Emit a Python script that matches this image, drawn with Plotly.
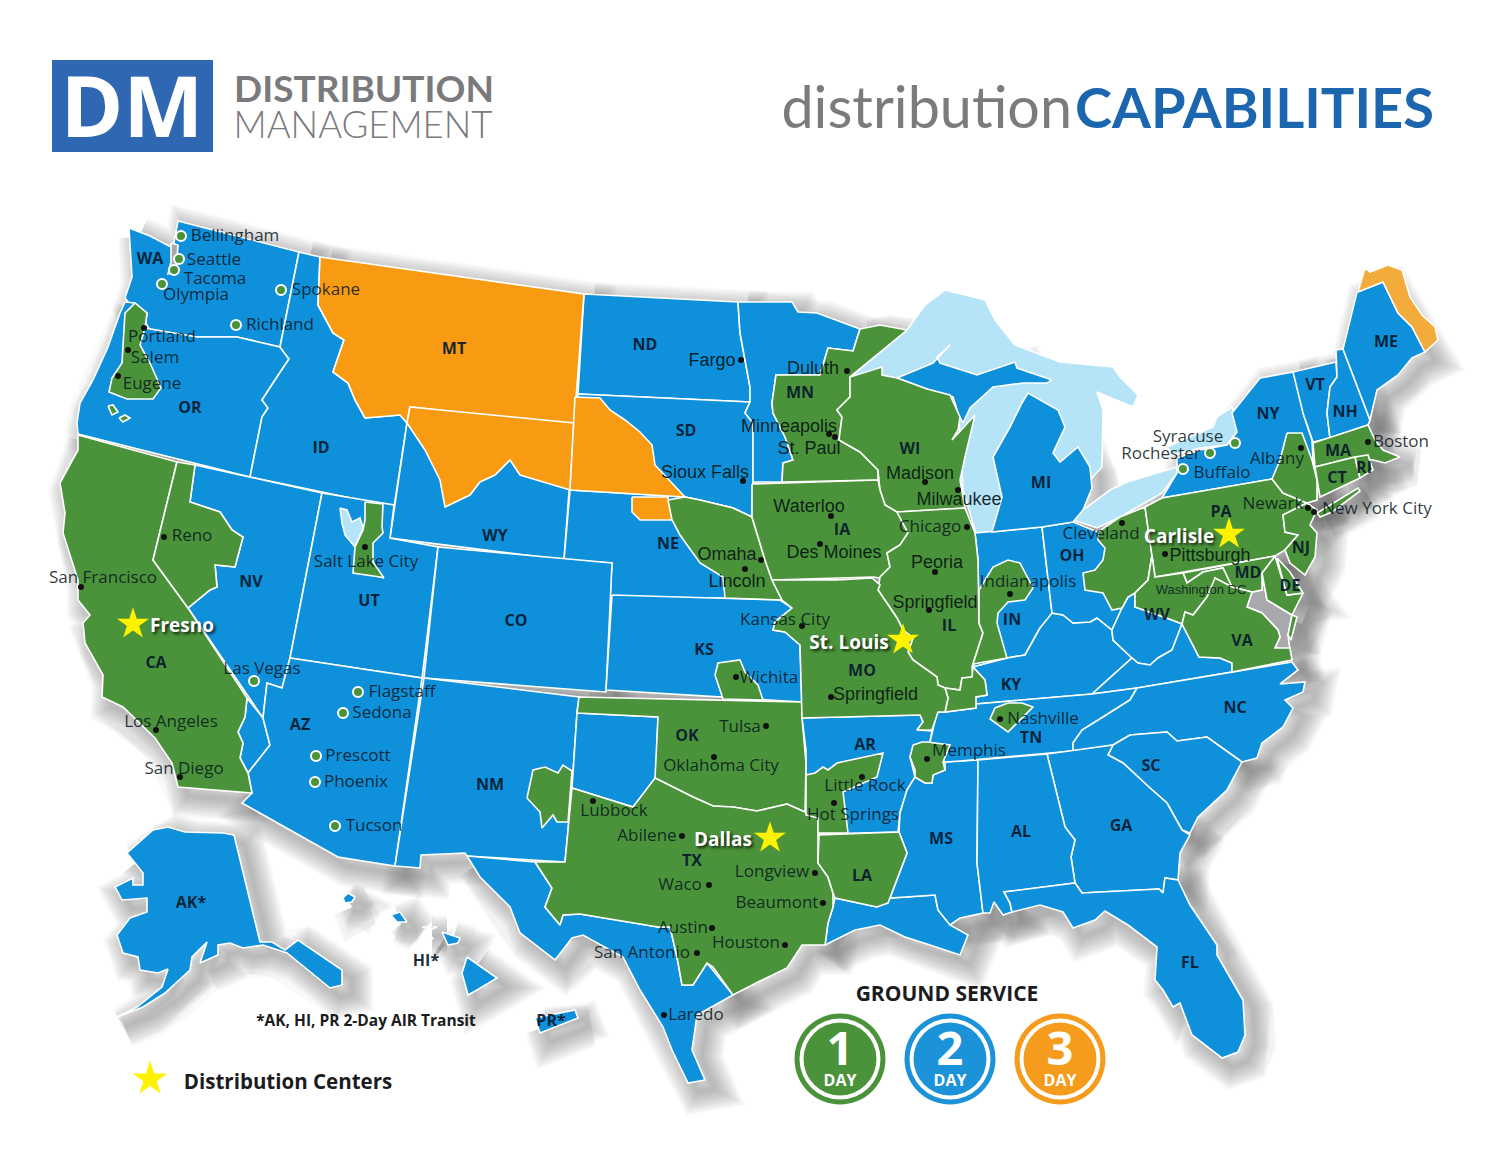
import plotly.graph_objects as go

# colours
BLUE = "#0E90DB"
GREEN = "#4A933A"
ORANGE = "#F89B12"
ORANGE_ME = "#F3AC3B"
LAKE = "#B5E3F7"
BAY = "#A9A8AD"
YELLOW = "#FFF200"
INK = "rgba(8,22,32,0.86)"

# outlines, in picture pixels
WA = [(129,228),(150,236),(173,248),(178,221),(299,252),(280,347),(237,337),(197,337),(150,330),(145,322),(125,298),(132,277)]
PUGET = [(171,243),(178,245),(176,272),(168,274),(171,262)]
OREGON = [(125,302),(135,303),(147,313),(145,328),(197,337),(237,337),(280,347),(289,359),(273,383),(262,400),(268,408),(262,417),(250,477),(78,434),(77,423),(80,403),(93,380),(108,347),(120,313)]
WILLAMETTE = [(135,303),(147,313),(145,328),(140,345),(150,363),(161,388),(153,399),(127,399),(109,392),(112,378),(122,363),(123,347),(125,313)]
OR_ISLE_A = [(108,406),(113,405),(118,412),(112,415)]
OR_ISLE_B = [(119,418),(125,415),(130,418),(123,422)]
ID = [(299,252),(320,257),(318,305),(333,333),(344,340),(333,372),(348,383),(355,400),(365,418),(400,415),(407,423),(394,507),(250,477),(262,417),(268,408),(262,400),(273,383),(289,359),(280,347)]
MT = [(320,257),(584,294),(574,425),(410,407),(407,423),(400,415),(365,418),(355,400),(348,383),(333,372),(344,340),(333,333),(318,305)]
WY = [(407,423),(410,407),(574,423),(564,560),(390,538)]
WY_EAST = [(410,407),(574,423),(570,490),(520,475),(510,460),(495,475),(480,482),(470,495),(445,507),(440,480),(425,450),(407,423)]
ND = [(584,294),(738,302),(740,333),(750,387),(750,402),(578,394)]
SD = [(578,394),(750,402),(745,413),(753,423),(753,482),(752,517),(733,508),(700,500),(685,497),(570,490)]
SD_WEST = [(575,397),(600,398),(610,410),(625,420),(640,432),(652,445),(655,465),(685,497),(570,490)]
NE = [(570,490),(685,497),(700,500),(733,508),(752,517),(765,560),(772,580),(782,600),(723,598),(610,597),(612,563),(564,560)]
NE_EAST = [(668,500),(685,497),(700,500),(733,508),(752,517),(765,560),(772,580),(782,600),(725,598),(723,577),(700,563),(680,535),(672,520)]
NE_NOTCH = [(632,497),(668,497),(672,520),(640,520),(632,512)]
MN = [(738,302),(792,302),(798,312),(817,313),(860,329),(853,351),(828,348),(820,375),(776,375),(772,403),(773,413),(785,437),(793,460),(783,463),(782,482),(753,482),(753,423),(745,413),(750,402),(750,387),(740,333)]
MN_EAST = [(860,329),(880,325),(907,330),(853,375),(850,377),(850,397),(837,410),(842,417),(839,440),(860,452),(878,470),(878,480),(782,482),(783,463),(793,460),(785,437),(773,413),(772,403),(776,375),(820,375),(828,348),(853,351)]
WI = [(850,377),(882,367),(882,375),(897,378),(927,389),(950,395),(960,417),(958,430),(952,440),(975,415),(965,457),(960,480),(965,508),(897,512),(885,505),(880,490),(878,470),(860,452),(839,440),(842,417),(837,410),(850,397)]
IA = [(752,484),(878,480),(880,490),(885,505),(897,512),(908,533),(900,545),(887,553),(890,567),(880,578),(873,577),(772,580),(765,560),(752,517)]
IL = [(897,512),(965,508),(975,533),(978,560),(979,623),(983,633),(972,667),(973,677),(962,678),(960,690),(945,688),(938,685),(937,677),(913,660),(908,652),(913,638),(903,630),(897,618),(878,590),(880,577),(890,567),(887,553),(900,545),(908,533)]
KY_WEST = [(973,667),(985,680),(987,695),(976,697),(976,708),(945,712),(948,698),(945,688),(960,690),(962,678),(972,677)]
IN = [(975,533),(1042,527),(1052,613),(1050,625),(1040,628),(1033,640),(1025,655),(1007,658),(973,667),(983,633),(979,623),(978,560)]
IN_WEST = [(979,590),(993,567),(1008,560),(1020,563),(1033,588),(1025,600),(1008,602),(998,613),(997,623),(1007,658),(973,664),(983,633),(979,623)]
KY = [(973,667),(1007,658),(1025,655),(1033,640),(1040,628),(1052,613),(1063,615),(1073,623),(1090,622),(1097,618),(1112,630),(1113,640),(1132,658),(1115,673),(1092,694),(976,704),(976,697),(987,695),(985,680)]
OH = [(1042,527),(1073,522),(1098,532),(1145,507),(1152,555),(1148,580),(1135,593),(1128,597),(1122,608),(1112,630),(1097,618),(1090,622),(1073,623),(1063,615),(1052,613)]
OH_EAST = [(1145,507),(1152,555),(1148,580),(1135,593),(1128,597),(1122,608),(1112,610),(1103,593),(1085,590),(1083,573),(1095,570),(1103,560),(1105,548),(1098,540),(1098,532),(1120,517)]
MI_LOWER = [(1042,527),(992,532),(1002,497),(993,457),(1010,427),(1022,403),(1028,393),(1058,410),(1065,427),(1053,453),(1060,462),(1078,447),(1090,467),(1092,488),(1083,510),(1073,522)]
MI_UPPER = [(897,378),(933,363),(950,345),(937,357),(940,363),(977,375),(1015,362),(1017,368),(1052,380),(1047,383),(1023,383),(993,387),(970,408),(963,423),(958,413),(953,397),(927,389)]
GREAT_LAKES = [(853,375),(907,330),(925,305),(945,290),(985,300),(995,320),(1015,345),(1060,362),(1113,367),(1120,377),(1138,395),(1133,407),(1097,392),(1103,410),(1102,467),(1090,480),(1060,470),(1002,497),(993,532),(977,537),(963,490),(960,430),(958,400),(897,378)]
LAKE_ERIE = [(1073,520),(1083,510),(1110,490),(1127,482),(1177,467),(1177,473),(1162,493),(1120,517),(1097,528)]
LAKE_ONTARIO = [(1167,447),(1213,427),(1217,417),(1232,407),(1237,420),(1237,432),(1227,445),(1200,448),(1173,455)]
SALT_LAKE = [(340,508),(347,510),(352,522),(360,518),(363,528),(355,547),(345,535),(342,523)]
PA = [(1145,507),(1162,498),(1272,479),(1283,493),(1307,503),(1283,515),(1285,532),(1298,535),(1285,550),(1275,556),(1155,577)]
NY = [(1162,498),(1177,473),(1177,458),(1200,450),(1227,445),(1237,432),(1232,413),(1260,378),(1293,372),(1300,393),(1303,413),(1312,440),(1313,460),(1317,480),(1317,500),(1307,503),(1283,493),(1272,479)]
NY_HUDSON = [(1287,433),(1302,433),(1312,460),(1317,480),(1317,500),(1307,503),(1283,493),(1272,479),(1280,460)]
LONG_ISLAND = [(1317,513),(1358,488),(1360,491),(1332,512),(1320,517)]
NJ = [(1307,503),(1317,510),(1310,525),(1317,533),(1315,557),(1305,575),(1290,563),(1285,550),(1298,535),(1285,532),(1283,515)]
EAST_SHORE = [(1275,556),(1287,595),(1303,593),(1292,615),(1267,600),(1262,573)]
DE = [(1277,558),(1290,572),(1303,593),(1287,595)]
VA_SHORE = [(1292,615),(1297,617),(1291,640),(1288,635)]
MD = [(1183,573),(1275,556),(1262,573),(1262,590),(1252,592),(1232,587),(1223,568),(1203,572),(1187,583)]
WV_NORTH = [(1135,593),(1148,580),(1152,555),(1155,577),(1183,573),(1187,583),(1203,572),(1223,568),(1232,587),(1215,578),(1213,587),(1207,597),(1193,615),(1185,612),(1182,624),(1172,620),(1135,607)]
WV = [(1135,593),(1135,607),(1172,620),(1182,624),(1172,650),(1158,658),(1150,665),(1138,663),(1132,658),(1113,640),(1112,630),(1122,608),(1128,597)]
VA_NORTH = [(1182,624),(1199,657),(1220,658),(1232,663),(1232,672),(1292,660),(1290,648),(1275,648),(1280,637),(1278,630),(1262,613),(1247,607),(1252,592),(1232,587),(1215,578),(1207,597),(1193,615),(1185,612)]
VA_SOUTH = [(1182,624),(1199,657),(1220,658),(1232,663),(1232,672),(1137,688),(1092,694),(1115,673),(1132,658),(1138,663),(1150,665),(1158,658),(1172,650)]
CHESAPEAKE = [(1262,573),(1267,600),(1292,615),(1288,635),(1290,650),(1275,648),(1280,637),(1278,630),(1262,613),(1247,607),(1252,592),(1262,590)]
VT = [(1293,372),(1336,362),(1337,377),(1330,387),(1327,413),(1330,438),(1313,442),(1303,413)]
NH = [(1336,350),(1343,349),(1370,420),(1368,425),(1330,438),(1327,413),(1330,387),(1337,377)]
ME = [(1343,349),(1357,292),(1383,282),(1398,313),(1412,327),(1425,352),(1412,358),(1398,375),(1377,390),(1370,420)]
ME_NORTH = [(1358,292),(1365,268),(1370,272),(1388,265),(1402,270),(1410,297),(1422,315),(1435,327),(1438,340),(1425,352),(1412,327),(1398,313),(1383,282)]
MA = [(1313,443),(1368,425),(1375,440),(1383,450),(1400,457),(1385,463),(1373,460),(1355,457),(1315,467)]
CT = [(1315,467),(1355,457),(1360,478),(1320,497)]
RI = [(1355,457),(1368,455),(1373,470),(1360,478)]
CA = [(78,435),(177,462),(153,560),(188,608),(247,698),(245,717),(238,732),(243,743),(240,758),(248,773),(252,793),(178,787),(172,763),(155,738),(123,707),(102,697),(103,675),(85,643),(83,623),(90,615),(78,600),(78,580),(63,533),(65,513),(60,483),(78,450)]
NV = [(195,465),(322,493),(290,658),(282,688),(267,683),(263,718),(188,608),(210,590),(217,587),(215,565),(235,567),(243,537),(232,530),(220,512),(190,502)]
NV_WEST = [(177,462),(195,465),(190,502),(220,512),(232,530),(243,537),(235,567),(215,565),(217,587),(210,590),(188,608),(153,560)]
CA_STRIP = [(247,698),(263,718),(270,745),(248,773),(240,758),(243,743),(238,732),(245,717)]
UT = [(322,493),(394,505),(390,538),(438,547),(422,678),(290,658)]
UT_VALLEY = [(365,502),(383,504),(382,527),(383,533),(373,543),(373,562),(384,578),(380,577),(353,573),(355,547),(363,530),(365,520)]
AZ = [(290,658),(422,678),(395,866),(338,857),(242,803),(252,793),(248,773),(270,745),(263,718),(267,683),(282,688)]
CO = [(438,547),(612,563),(606,692),(424,678)]
NM = [(424,678),(579,697),(577,713),(572,788),(565,862),(467,856),(465,853),(421,855),(420,868),(395,866)]
NM_PATCH = [(527,798),(533,770),(545,767),(558,773),(563,765),(572,771),(568,822),(557,822),(553,815),(542,828),(540,812)]
KS = [(612,595),(780,600),(792,608),(775,622),(773,630),(785,632),(800,645),(802,702),(606,690)]
KS_PATCH = [(715,675),(718,663),(740,660),(745,672),(758,685),(763,700),(723,699)]
OK = [(579,697),(802,702),(802,718),(806,763),(805,812),(787,804),(757,811),(733,807),(713,806),(693,797),(673,787),(655,778),(658,717),(577,713)]
TX_PANHANDLE = [(577,713),(658,717),(656,778),(633,807),(572,788)]
TX_CENTRAL = [(572,788),(633,807),(655,778),(673,787),(693,797),(713,806),(733,807),(757,811),(787,804),(805,812),(818,818),(818,863),(828,877),(833,893),(833,907),(828,923),(825,945),(802,945),(797,953),(787,968),(758,982),(733,995),(713,967),(707,963),(693,985),(682,985),(677,957),(670,927),(658,927),(580,914),(563,915),(560,925),(545,907),(552,888),(535,862),(565,862)]
TX_SOUTH = [(467,856),(480,877),(510,907),(520,933),(555,960),(572,938),(583,935),(623,957),(640,990),(663,1027),(672,1050),(688,1083),(705,1080),(692,1050),(697,1015),(733,995),(707,963),(693,985),(682,985),(677,957),(670,927),(658,927),(580,914),(563,915),(560,925),(545,907),(552,888),(535,862)]
MO = [(772,580),(837,580),(872,578),(880,585),(878,590),(897,618),(903,630),(913,638),(908,652),(913,660),(937,677),(938,685),(945,688),(948,698),(945,712),(938,712),(932,730),(917,730),(923,722),(920,715),(802,718),(800,645),(785,632),(773,630),(775,622),(792,608),(782,600)]
MO_NORTH = [(772,580),(837,580),(847,598),(843,610),(792,608),(782,600)]
AR = [(802,718),(920,715),(923,722),(917,730),(932,731),(930,742),(910,757),(915,777),(907,790),(900,813),(898,832),(818,834),(818,818),(806,810),(806,750)]
AR_PATCH = [(806,775),(815,773),(823,767),(828,770),(837,763),(883,753),(877,777),(843,792),(848,833),(818,833),(818,818),(806,815)]
LA = [(819,835),(899,832),(907,853),(890,898),(888,903),(877,907),(835,898),(833,893),(828,877),(818,863)]
LA_SOUTH = [(835,898),(877,907),(890,898),(935,895),(938,910),(950,925),(968,935),(960,955),(930,945),(905,937),(880,925),(855,930),(825,945),(828,923),(833,907)]
MS = [(945,762),(978,760),(977,863),(983,913),(960,918),(950,925),(938,910),(935,895),(890,898),(907,853),(899,832),(900,813),(907,790),(915,777),(925,783),(932,783),(933,775),(945,770)]
MEMPHIS = [(913,745),(922,742),(927,742),(950,745),(943,762),(945,770),(933,775),(932,783),(925,783),(915,777),(915,770),(910,757)]
TN = [(945,712),(976,708),(976,704),(1092,694),(1137,688),(1130,700),(1103,717),(1082,730),(1073,743),(1073,751),(960,761),(945,762),(930,742),(932,733),(937,712)]
NASHVILLE = [(1008,703),(1022,703),(1033,707),(1008,732),(990,719),(995,708)]
NC = [(1137,688),(1292,662),(1298,670),(1280,684),(1305,682),(1303,692),(1285,700),(1293,708),(1283,727),(1262,743),(1257,758),(1242,762),(1207,737),(1177,741),(1167,732),(1130,735),(1113,745),(1073,751),(1073,743),(1082,730),(1103,717),(1130,700)]
SC = [(1113,745),(1130,735),(1167,732),(1177,741),(1207,737),(1242,762),(1227,790),(1198,817),(1190,833),(1182,830),(1167,803),(1150,788),(1123,763),(1108,755)]
GA = [(1047,754),(1113,745),(1108,755),(1123,763),(1150,788),(1167,803),(1182,830),(1190,835),(1180,853),(1178,880),(1165,878),(1163,893),(1159,889),(1082,893),(1075,883),(1071,857),(1075,840),(1065,827)]
AL = [(978,760),(1047,754),(1065,827),(1075,840),(1071,857),(1075,883),(1004,892),(1010,903),(1012,912),(1003,915),(994,902),(990,913),(983,913),(977,863)]
FL = [(1075,883),(1082,893),(1159,889),(1163,893),(1165,878),(1178,880),(1190,905),(1217,945),(1217,955),(1243,1000),(1245,1035),(1238,1052),(1222,1058),(1192,1035),(1180,1003),(1173,1007),(1163,990),(1155,980),(1157,947),(1145,938),(1128,925),(1105,911),(1095,920),(1073,928),(1063,912),(1040,905),(1012,912),(1010,903),(1004,892)]
AK = [(127,853),(153,830),(168,827),(185,832),(223,833),(234,835),(260,942),(272,942),(285,950),(298,940),(342,970),(342,985),(330,988),(287,953),(263,945),(243,948),(230,943),(218,945),(218,955),(200,963),(207,942),(192,957),(190,970),(165,993),(143,1007),(115,1018),(137,1007),(162,987),(168,969),(158,973),(140,970),(138,957),(123,953),(117,935),(130,918),(147,912),(147,898),(122,900),(115,887),(133,878),(133,885),(143,885),(143,873)]
KAUAI = [(343,898),(348,893),(355,897),(352,902),(345,903)]
OAHU = [(391,915),(400,912),(407,922),(397,922)]
MOLOKAI = [(422,927),(437,927),(433,929)]
LANAI = [(430,936),(433,938),(431,940)]
MAUI = [(442,932),(460,938),(458,943),(448,945)]
BIG_ISLAND = [(467,957),(497,978),(477,990),(468,995),(462,973)]
PR = [(535,1018),(575,1010),(578,1018),(540,1033)]

BLUE_AREAS = [WA, OREGON, ID, WY, ND, SD, NE, MN, IN, KY, OH, MI_LOWER, MI_UPPER, NY, WV, VA_SOUTH, VT, NH, ME, NV, CA_STRIP, UT, AZ, CO, NM, KS, TX_PANHANDLE, TX_SOUTH, MO_NORTH, AR, LA_SOUTH, MS, TN, NC, SC, GA, AL, FL, AK, KAUAI, OAHU, MOLOKAI, LANAI, MAUI, BIG_ISLAND, PR]
ORANGE_AREAS = [MT, WY_EAST, SD_WEST, NE_NOTCH]
GREEN_AREAS = [WILLAMETTE, OR_ISLE_A, OR_ISLE_B, NE_EAST, MN_EAST, WI, IA, IL, KY_WEST, IN_WEST, OH_EAST, PA, NY_HUDSON, LONG_ISLAND, NJ, EAST_SHORE, DE, VA_SHORE, MD, WV_NORTH, VA_NORTH, MA, CT, RI, CA, NV_WEST, UT_VALLEY, NM_PATCH, KS_PATCH, OK, TX_CENTRAL, MO, AR_PATCH, LA, MEMPHIS, NASHVILLE]
LAKES = [GREAT_LAKES, LAKE_ERIE, LAKE_ONTARIO]

# state abbreviations
STATE_NAMES = ["WA","OR","ID","MT","ND","SD","WY","NE","NV","UT","CO","CA","AZ","NM","KS","OK","TX","MN","IA","MO","AR","LA","WI","IL","MS","AL","TN","KY","IN","OH","MI","GA","FL","SC","NC","VA","WV","PA","NY","VT","NH","ME","MA","CT","RI","NJ","DE","MD","AK*","HI*","PR*"]
STATE_X = [150,190,321,454,645,686,495,668,251,369,516,156,300,490,704,687,692,800,842,862,865,862,910,949,941,1021,1031,1011,1012,1072,1041,1121,1190,1151,1235,1242,1157,1221,1268,1315,1345,1386,1338,1337,1364,1301,1290,1248,191,426,551]
STATE_Y = [258,407,447,348,344,430,535,543,581,600,620,662,724,784,649,735,860,392,529,670,744,875,448,625,838,831,737,684,619,555,482,825,962,765,707,640,614,511,413,384,411,341,450,477,467,547,585,572,902,960,1020]

# cities in the 2 day zone, green dot with white ring
RING_CITY = ["Bellingham","Seattle","Tacoma","Olympia","Spokane","Richland","Flagstaff","Sedona","Prescott","Phoenix","Tucson","Las Vegas","Syracuse","Rochester","Buffalo"]
RING_DOT_X = [181,179,174,162,281,236,358,343,316,315,335,254,1235,1210,1183]
RING_DOT_Y = [236,259,270,284,290,325,692,713,756,782,826,681,443,453,469]
RING_TEXT_X = [235,214,215,196,326,280,402,382,358,356,374,262,1188,1161,1222]
RING_TEXT_Y = [235,259,278,294,289,324,691,712,755,781,825,668,436,453,472]

# cities with a black dot, humanist face
THIN_CITY = ["Portland","Salem","Eugene","Reno","San Francisco","Los Angeles","San Diego","Salt Lake City","Chicago","Kansas City","Wichita","Tulsa","Oklahoma City","Lubbock","Abilene","Longview","Waco","Beaumont","Austin","Houston","San Antonio","Laredo","Little Rock","Hot Springs","Memphis","Nashville","Indianapolis","Cleveland","Albany","Boston","Newark","New York City"]
THIN_DOT_X = [144,128,118,164,81,156,180,365,967,802,736,766,714,593,682,815,709,823,712,785,697,664,862,834,927,1000,1010,1122,1301,1368,1308,1314]
THIN_DOT_Y = [328,350,376,537,587,730,777,547,527,626,677,726,757,801,836,873,885,903,928,945,953,1015,777,803,759,719,594,523,448,442,508,512]
THIN_TEXT_X = [162,155,152,192,103,171,184,366,930,785,769,740,721,614,647,772,680,777,683,746,642,696,865,853,969,1043,1028,1101,1277,1401,1273,1377]
THIN_TEXT_Y = [336,357,383,535,577,721,768,561,526,619,677,726,765,810,835,871,884,902,927,942,952,1014,785,814,750,718,581,533,458,441,503,508]

# cities with a black dot, grotesque face
ARIAL_CITY = ["Fargo","Duluth","Minneapolis","St. Paul","Sioux Falls","Waterloo","Des Moines","Madison","Milwaukee","Peoria","Springfield","Omaha","Lincoln","Springfield ","Pittsburgh"]
ARIAL_DOT_X = [741,847,829,835,743,831,820,925,958,935,929,761,745,831,1165]
ARIAL_DOT_Y = [360,371,434,437,481,516,544,482,490,572,610,560,569,697,554]
ARIAL_TEXT_X = [712,813,789,809,705,809,834,920,959,937,935,727,737,878,1210]
ARIAL_TEXT_Y = [359,367,425,447,471,505,551,472,498,561,601,553,580,693,554]

# distribution centers
CENTER_NAMES = ["Fresno","St. Louis","Dallas","Carlisle"]
CENTER_STAR_X = [133,903,770,1229]
CENTER_STAR_Y = [624,640,838,534]
CENTER_TEXT_X = [182,849,723,1179]
CENTER_TEXT_Y = [625,642,839,536]

# ground service badges
BADGE_X = [840,950,1060]
BADGE_COLORS = [GREEN, "#1C93D9", "#F59C1C"]
BADGE_DIGITS = ["1","2","3"]

# widths of the strokes that build the soft shadow
SHADOW_WIDTHS = [42, 39, 36, 33, 30, 27, 24, 21, 18, 15, 12, 9, 6, 3]

fig = go.Figure()


def xs(points):
    return [p[0] for p in points] + [points[0][0]]


def ys(points):
    return [p[1] for p in points] + [points[0][1]]


def area(points, color):
    fig.add_trace(go.Scatter(x=xs(points), y=ys(points), mode="lines", fill="toself", fillcolor=color,
                             line=dict(color="white", width=1.6), hoverinfo="skip"))


def labels(names, x, y, size, family, color=INK, weight="normal", shadow=None, pos="middle center"):
    # plotly sits middle text a little high, push it back down by a part of the font size
    fig.add_trace(go.Scatter(x=x, y=[v + size * 0.12 for v in y], text=names, mode="text", textposition=pos,
                             hoverinfo="skip",
                             textfont=dict(size=size, family=family, color=color, weight=weight,
                                           shadow=shadow or "none")))


def dots(x, y, size, color, line_color=None, line_width=0, symbol="circle"):
    fig.add_trace(go.Scatter(x=x, y=y, mode="markers", hoverinfo="skip",
                             marker=dict(size=size, color=color, symbol=symbol,
                                         line=dict(color=line_color or color, width=line_width))))


# soft drop shadow: translucent strokes of the whole land outline, shifted down right
land_x, land_y = [], []
for poly in BLUE_AREAS + ORANGE_AREAS + GREEN_AREAS:
    land_x += [v + 10 for v in xs(poly)] + [None]
    land_y += [v + 9 for v in ys(poly)] + [None]
for width in SHADOW_WIDTHS:
    fig.add_trace(go.Scatter(x=land_x, y=land_y, mode="lines", hoverinfo="skip",
                             line=dict(color="rgba(105,105,105,0.045)", width=width)))

for poly in LAKES:
    area(poly, LAKE)
for poly in BLUE_AREAS:
    area(poly, BLUE)
area(PUGET, BAY)
area(CHESAPEAKE, BAY)
area(SALT_LAKE, LAKE)
for poly in ORANGE_AREAS:
    area(poly, ORANGE)
area(ME_NORTH, ORANGE_ME)
for poly in GREEN_AREAS:
    area(poly, GREEN)

dots(RING_DOT_X, RING_DOT_Y, 10, GREEN, "white", 2)
dots(THIN_DOT_X + ARIAL_DOT_X, THIN_DOT_Y + ARIAL_DOT_Y, 6, "#111111")

labels(RING_CITY, RING_TEXT_X, RING_TEXT_Y, 17, "Open Sans")
labels(THIN_CITY, THIN_TEXT_X, THIN_TEXT_Y, 17, "Open Sans")
labels(ARIAL_CITY, ARIAL_TEXT_X, ARIAL_TEXT_Y, 18, "Liberation Sans", color="rgba(8,22,20,0.92)")
labels(["Washington DC"], [1201], [589], 13, "Liberation Sans")
labels(STATE_NAMES, STATE_X, STATE_Y, 16, "Open Sans", color="rgba(6,24,44,0.92)", weight="bold")

dots(CENTER_STAR_X, CENTER_STAR_Y, 24, YELLOW, symbol="star")
labels(CENTER_NAMES, CENTER_TEXT_X, CENTER_TEXT_Y, 19, "Open Sans", color="white", weight="bold",
       shadow="2px 2px 3px rgba(0,0,0,0.75)")

# footer
labels(["*AK, HI, PR 2-Day AIR Transit"], [366], [1020], 15.5, "Open Sans", color="#1c1c1e", weight="bold")
dots([150], [1079], 26, YELLOW, symbol="star")
labels(["Distribution Centers"], [288], [1081], 20.5, "Open Sans", color="#1c1c1e", weight="bold")
labels(["GROUND SERVICE"], [947], [993], 21, "Open Sans", color="#1c1c1e", weight="bold")

dots(BADGE_X, [1059] * 3, 91, BADGE_COLORS)
dots(BADGE_X, [1059] * 3, 81, "white")
dots(BADGE_X, [1059] * 3, 73, BADGE_COLORS)
labels(BADGE_DIGITS, BADGE_X, [1048] * 3, 47, "Open Sans", color="white", weight="bold")
labels(["DAY"] * 3, BADGE_X, [1080] * 3, 16, "Open Sans", color="white", weight="bold")

# header
labels(["DM"], [132], [106], 85, "Open Sans", color="white", weight="bold")
labels(["DISTRIBUTION"], [364], [88], 37, "Lato", color="#7A7A7C", weight="bold")
labels(["MANAGEMENT"], [363], [124], 36.5, "Lato", color="#7A7A7C", weight=300)
labels(["distribution"], [1072], [107], 57.5, "Lato", color="#7B7B7D", pos="middle left")
labels(["CAPABILITIES"], [1075], [107], 56, "Lato", color="#1B66AE", weight="bold", pos="middle right")

fig.add_shape(type="rect", x0=52, x1=213, y0=60, y1=152, fillcolor="#2F67B2", line_width=0, layer="below")

fig.update_layout(width=1496, height=1156, margin=dict(l=0, r=0, t=0, b=0), showlegend=False,
                  paper_bgcolor="white", plot_bgcolor="white",
                  xaxis=dict(range=[0, 1496], visible=False, fixedrange=True),
                  yaxis=dict(range=[1156, 0], visible=False, fixedrange=True))

fig.write_html("out.html", post_script="document.body.style.margin='0';", config={"displayModeBar": False})
